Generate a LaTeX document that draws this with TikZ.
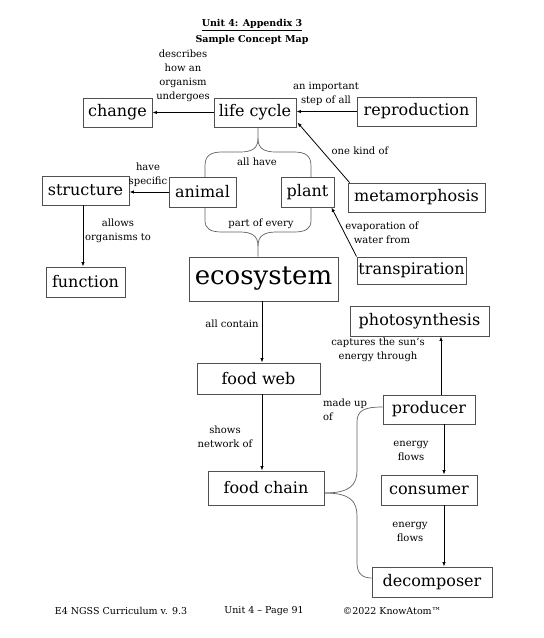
\documentclass[tikz,border=0pt]{standalone}
\usepackage{fontspec}
\setmainfont{DejaVu Serif}
\usetikzlibrary{arrows.meta,calc}
\definecolor{boxgray}{HTML}{505050}
\definecolor{bracegray}{HTML}{606060}
\begin{document}
\begin{tikzpicture}[x=1pt,y=-1pt,
  concept/.style={draw=boxgray, line width=0.9pt, inner sep=0pt, font=\fontsize{16}{18}\selectfont},
  big/.style={font=\fontsize{26}{28}\selectfont},
  lbl/.style={font=\fontsize{10}{14}\selectfont, align=center, inner sep=0pt},
  foot/.style={font=\fontsize{9.5}{12}\selectfont, inner sep=0pt},
  arr/.style={draw=black, line width=0.8pt, -{Latex[length=4.5pt,width=3.5pt]}},
  bracel/.style={draw=bracegray, line width=0.7pt}
]
\useasboundingbox (0,0) rectangle (544,638);
% title
\node[font=\bfseries\fontsize{9.5}{12}\selectfont, inner sep=0pt] (t1) at (252,25) {\underline{Unit 4: Appendix 3}};
\node[font=\bfseries\fontsize{9.5}{12}\selectfont, inner sep=0pt] (t2) at (252,40) {Sample Concept Map};
% concept boxes
\node[concept, minimum width=69pt, minimum height=29pt] (change) at (117.5,112.5) {change};
\node[concept, minimum width=82pt, minimum height=29pt] (lifecycle) at (255,112.5) {life cycle};
\node[concept, minimum width=119pt, minimum height=29pt] (reproduction) at (416.5,111.5) {reproduction};
\node[concept, minimum width=87pt, minimum height=29pt] (structure) at (85.5,190.5) {structure};
\node[concept, minimum width=67pt, minimum height=30pt] (animal) at (202.5,192) {animal};
\node[concept, minimum width=53pt, minimum height=30pt] (plant) at (307.5,192) {plant};
\node[concept, minimum width=137pt, minimum height=29pt] (metamorphosis) at (416.5,197.5) {metamorphosis};
\node[concept, minimum width=79pt, minimum height=30pt] (function) at (85.5,282) {function};
\node[concept, big, minimum width=149pt, minimum height=44pt] (ecosystem) at (263.5,279) {ecosystem};
\node[concept, minimum width=109pt, minimum height=27pt] (transpiration) at (411.5,270.5) {transpiration};
\node[concept, minimum width=139pt, minimum height=30pt] (photosynthesis) at (419.5,321) {photosynthesis};
\node[concept, minimum width=123pt, minimum height=31pt] (foodweb) at (258.5,378.5) {food web};
\node[concept, minimum width=92pt, minimum height=29pt] (producer) at (429,409.5) {producer};
\node[concept, minimum width=116pt, minimum height=34pt] (foodchain) at (266,488) {food chain};
\node[concept, minimum width=96pt, minimum height=30pt] (consumer) at (429,490) {consumer};
\node[concept, minimum width=120pt, minimum height=30pt] (decomposer) at (432,582) {decomposer};
% labels
\node[lbl] (l1) at (183,76) {describes\\how an\\organism\\undergoes};
\node[lbl] (l2) at (326,94) {an important\\step of all};
\node[lbl] (l3) at (360,151) {one kind of};
\node[lbl] (l4) at (257,162) {all have};
\node[lbl] (l5) at (148,174.5) {have\\specific};
\node[lbl] (l6) at (118,230.5) {allows\\organisms to};
\node[lbl] (l7) at (261,224) {part of every};
\node[lbl] (l8) at (382,233) {evaporation of\\water from};
\node[lbl] (l9) at (232,324) {all contain};
\node[lbl] (l10) at (378,350) {captures the sun's\\energy through};
\node[lbl, align=left, anchor=west] (l11) at (323,410) {made up\\of};
\node[lbl] (l12) at (225,436.5) {shows\\network of};
\node[lbl] (l13) at (411,450.5) {energy\\flows};
\node[lbl] (l14) at (410,531.5) {energy\\flows};
% footer
\node[foot] (f1) at (121,611) {E4 NGSS Curriculum v. 9.3};
\node[foot] (f2) at (264,611) {Unit 4 – Page 91};
\node[foot] (f3) at (392,611) {©2022 KnowAtom™};
% arrows
\draw[arr] (lifecycle.west) -- (change.east);
\draw[arr] (reproduction.west) -- (reproduction.west -| lifecycle.east);
\draw[arr] ($(metamorphosis.north west)+(2,0)$) -- ($(lifecycle.south east)+(1,-5)$);
\draw[arr] (animal.west) -- (animal.west -| structure.east);
\draw[arr] ($(structure.south)+(-2.5,0)$) -- ($(function.north)+(-2.5,0)$);
\draw[arr] (transpiration.north west) -- ($(plant.south east)+(-3,0)$);
\draw[arr] ($(ecosystem.south)+(-1.5,0)$) -- ($(foodweb.north)+(3.5,0)$);
\draw[arr] ($(foodweb.south)+(3.5,0)$) -- ($(foodchain.north)+(-4,0)$);
\draw[arr] ($(producer.north)+(12,0)$) -- ($(photosynthesis.south)+(21.5,0)$);
\draw[arr] ($(producer.south)+(15,0)$) -- ($(consumer.north)+(15,0)$);
\draw[arr] ($(consumer.south)+(15,0)$) -- ($(decomposer.north)+(12,0)$);
% upper brace
\draw[bracel] ($(lifecycle.south)+(3,0)$) -- ++(0,11) coordinate (ub)
  .. controls ++(0,10) and (252,152) .. (240,152) -- (222,152)
  .. controls (210,152) and (205,156) .. (205,166) -- (205,177);
\draw[bracel] (ub) .. controls ++(0,10) and (264,152) .. (276,152) -- (294,152)
  .. controls (306,152) and (311,156) .. (311,166) -- (311,177);
% lower brace
\draw[bracel] ($(animal.south)+(2.5,0)$) -- ++(0,13)
  .. controls ++(0,8) and (210,232) .. (222,232) -- (240,232)
  .. controls (252,232) and (258,236) .. (258,246) -- ($(ecosystem.north)+(-5.5,0)$);
\draw[bracel] ($(plant.south)+(3.5,0)$) -- ++(0,13)
  .. controls ++(0,8) and (306,232) .. (294,232) -- (276,232)
  .. controls (264,232) and (258,236) .. (258,246);
% food chain brace
\draw[bracel] ($(foodchain.east)+(0,5)$) .. controls (350,493) and (357,485) .. (357,470) -- (357,422)
  .. controls (357,410) and (365,407) .. ($(producer.west)+(0,-2.5)$);
\draw[bracel] ($(foodchain.east)+(0,5)$) .. controls (350,493) and (357,501) .. (357,516) -- (357,563)
  .. controls (357,574) and (363,578) .. ($(decomposer.west)+(0,-4)$);
\end{tikzpicture}
\end{document}
